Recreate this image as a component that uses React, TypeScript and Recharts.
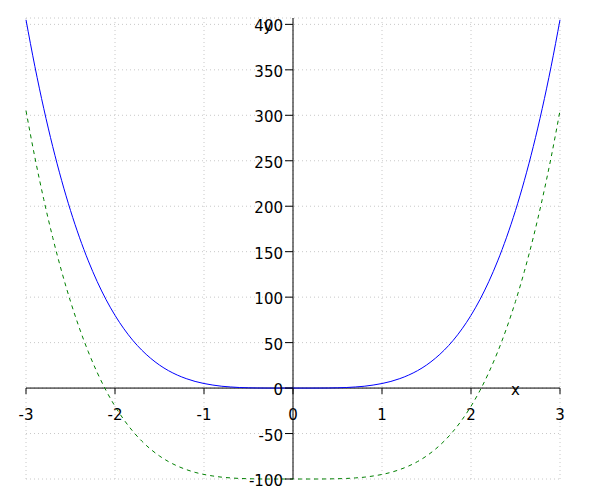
import React from 'react';
import { LineChart, Line, XAxis, YAxis, CartesianGrid, ReferenceLine, ReferenceDot } from 'recharts';

const xValues = [
  -3.0, -2.9, -2.8, -2.7, -2.6, -2.5, -2.4, -2.3, -2.2, -2.1,
  -2.0, -1.9, -1.8, -1.7, -1.6, -1.5, -1.4, -1.3, -1.2, -1.1,
  -1.0, -0.9, -0.8, -0.7, -0.6, -0.5, -0.4, -0.3, -0.2, -0.1,
  0.0, 0.1, 0.2, 0.3, 0.4, 0.5, 0.6, 0.7, 0.8, 0.9,
  1.0, 1.1, 1.2, 1.3, 1.4, 1.5, 1.6, 1.7, 1.8, 1.9,
  2.0, 2.1, 2.2, 2.3, 2.4, 2.5, 2.6, 2.7, 2.8, 2.9, 3.0,
];

// solid blue curve
const blueValues = [
  405, 353.6, 307.3, 265.7, 228.5, 195.3, 165.9, 139.9, 117.1, 97.2,
  80, 65.2, 52.5, 41.8, 32.8, 25.3, 19.2, 14.3, 10.4, 7.3,
  5, 3.3, 2.0, 1.2, 0.6, 0.3, 0.1, 0.04, 0.01, 0,
  0, 0, 0.01, 0.04, 0.1, 0.3, 0.6, 1.2, 2.0, 3.3,
  5, 7.3, 10.4, 14.3, 19.2, 25.3, 32.8, 41.8, 52.5, 65.2,
  80, 97.2, 117.1, 139.9, 165.9, 195.3, 228.5, 265.7, 307.3, 353.6, 405,
];

// dashed green curve
const greenValues = [
  305, 253.6, 207.3, 165.7, 128.5, 95.3, 65.9, 39.9, 17.1, -2.8,
  -20, -34.8, -47.5, -58.2, -67.2, -74.7, -80.8, -85.7, -89.6, -92.7,
  -95, -96.7, -98, -98.8, -99.4, -99.7, -99.9, -100, -100, -100,
  -100, -100, -100, -100, -99.9, -99.7, -99.4, -98.8, -98, -96.7,
  -95, -92.7, -89.6, -85.7, -80.8, -74.7, -67.2, -58.2, -47.5, -34.8,
  -20, -2.8, 17.1, 39.9, 65.9, 95.3, 128.5, 165.7, 207.3, 253.6, 305,
];

const xTicks = [-3, -2, -1, 0, 1, 2, 3];
const yTicks = [-100, -50, 0, 50, 100, 150, 200, 250, 300, 350, 400];

const data = xValues.map((x, i) => ({ x, blue: blueValues[i], green: greenValues[i] }));

const font = { fontFamily: 'DejaVu Sans', fontSize: 15 };

const XTick = (label: string) => (props: any) => (
  <g>
    <line x1={props.cx} y1={props.cy} x2={props.cx} y2={props.cy + 6} stroke="#000" />
    <text x={props.cx} y={props.cy + 32} textAnchor="middle" fill="#000" style={font}>{label}</text>
  </g>
);

const YTick = (label: string) => (props: any) => (
  <g>
    <line x1={props.cx - 8} y1={props.cy} x2={props.cx} y2={props.cy} stroke="#000" />
    <text x={props.cx - 10} y={props.cy + 7} textAnchor="end" fill="#000" style={font}>{label}</text>
  </g>
);

export default function App() {
  return (
    <div style={{ position: 'absolute', left: 0, top: 0, width: 600, height: 500, background: '#fff' }}>
      <LineChart width={600} height={500} data={data} margin={{ top: 18, right: 40, left: 26, bottom: 21 }}>
        <CartesianGrid stroke="#c8c8c8" strokeDasharray="1 3" />
        <XAxis type="number" dataKey="x" domain={[-3, 3]} ticks={xTicks} hide />
        <YAxis type="number" domain={[-100, 407]} ticks={yTicks} hide />
        <ReferenceLine y={0} stroke="#000" strokeWidth={1} />
        <ReferenceLine x={0} stroke="#000" strokeWidth={1} />
        <Line type="monotone" dataKey="blue" stroke="#0000ff" strokeWidth={1} dot={false} isAnimationActive={false} />
        <Line type="monotone" dataKey="green" stroke="#008000" strokeWidth={1} strokeDasharray="4 4" dot={false} isAnimationActive={false} />
        {xTicks.map((t) => (
          <ReferenceDot key={'x' + t} x={t} y={0} r={0} shape={XTick(String(t))} />
        ))}
        {yTicks.map((t) => (
          <ReferenceDot key={'y' + t} x={0} y={t} r={0} shape={YTick(String(t))} />
        ))}
        <ReferenceDot x={2.5} y={0} r={0} shape={(p: any) => (
          <text x={p.cx} y={p.cy + 7} textAnchor="middle" fill="#000" style={font}>x</text>
        )} />
        <ReferenceDot x={0} y={400} r={0} shape={(p: any) => (
          <text x={p.cx - 25} y={p.cy + 7} textAnchor="middle" fill="#000" style={font}>y</text>
        )} />
      </LineChart>
    </div>
  );
}
